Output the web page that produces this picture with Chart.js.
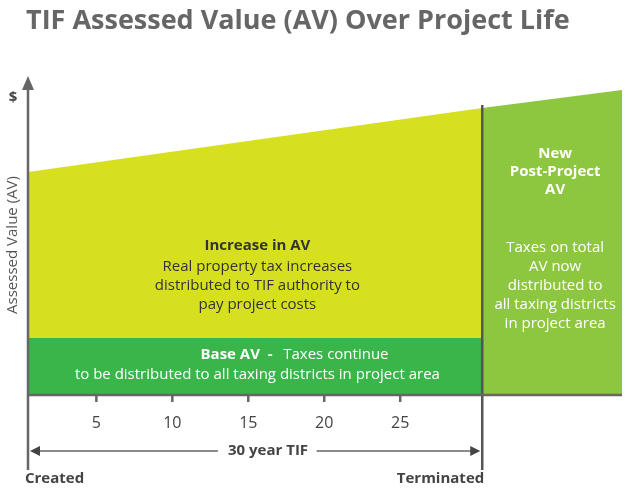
<!DOCTYPE html>
<html><head><meta charset="utf-8">
<script src="https://cdn.jsdelivr.net/npm/chart.js@4"></script>
<style>html,body{margin:0;padding:0;background:#fff}#w{width:640px;height:493px}</style>
</head><body><div id="w"><canvas id="c"></canvas></div>
<script>
const xMin = 0.5, xMax = 39.6, yMax = 315;
const termYear = 30.4;
const baseAV = [{x:0.5,y:57},{x:30.4,y:57}];
const totalAV = [{x:0.5,y:223},{x:30.4,y:287}];
const postAV = [{x:30.4,y:287},{x:39.6,y:305}];
const tickYears = [5,10,15,20,25];

const textPlugin = {
  id:'txt',
  afterDraw(ch){
    const c=ch.ctx, xs=ch.scales.x, ys=ch.scales.y;
    const X=v=>xs.getPixelForValue(v), Y=v=>ys.getPixelForValue(v);
    const L=X(xMin), R=X(xMax), B=Y(0), T=Y(yMax), TX=X(termYear);
    c.save();
    // terminated line
    c.strokeStyle='#555';c.lineWidth=2.5;
    c.beginPath();c.moveTo(TX,Y(290));c.lineTo(TX,B+75);c.stroke();
    // axes
    c.strokeStyle='#666';c.lineWidth=2.5;
    c.beginPath();c.moveTo(L,T+8);c.lineTo(L,B+75);c.moveTo(L,B);c.lineTo(R,B);c.stroke();
    c.fillStyle='#666';c.beginPath();c.moveTo(L-6,T+10);c.lineTo(L,T-4);c.lineTo(L+6,T+10);c.fill();
    // ticks
    c.font='16px "Open Sans"';c.textAlign='center';c.textBaseline='middle';c.fillStyle='#444';
    tickYears.forEach(t=>{c.beginPath();c.moveTo(X(t),B);c.lineTo(X(t),B+7);c.stroke();c.fillText(String(t),X(t),B+28);});
    // 30 yr arrow
    const ay=B+56;
    c.lineWidth=1.5;c.beginPath();c.moveTo(L+4,ay);c.lineTo(X(13),ay);c.moveTo(X(19.5),ay);c.lineTo(TX-4,ay);c.stroke();
    c.beginPath();c.moveTo(L+2,ay);c.lineTo(L+12,ay-5);c.lineTo(L+12,ay+5);c.fill();
    c.beginPath();c.moveTo(TX-2,ay);c.lineTo(TX-12,ay-5);c.lineTo(TX-12,ay+5);c.fill();
    c.font='bold 15px "Open Sans"';c.fillStyle='#444';c.fillText('30 year TIF',X(16.3),ay);
    c.textAlign='left';c.fillText('Created',L-3,B+84);
    c.textAlign='right';c.fillText('Terminated',TX+2,B+84);
    // $ and axis title
    c.textAlign='center';c.fillText('$',13,98);
    c.save();c.translate(13,245);c.rotate(-Math.PI/2);c.font='15px "Open Sans"';c.fillStyle='#555';c.fillText('Assessed Value (AV)',0,0);c.restore();
    // title
    c.textAlign='left';c.font='bold 27px "Open Sans"';c.fillStyle='#666';
    c.fillText('TIF Assessed Value (AV) Over Project Life',26,21);
    // increase text
    c.textAlign='center';c.fillStyle='#333';
    const cx=X(15.6);
    c.font='bold 15px "Open Sans"';c.fillText('Increase in AV',cx,246);
    c.font='15px "Open Sans"';
    ['Real property tax increases','distributed to TIF authority to','pay project costs'].forEach((s,i)=>c.fillText(s,cx,267+i*19));
    // base
    c.fillStyle='#fff';c.font='bold 15px "Open Sans"';
    c.textAlign='right';c.fillText('Base AV  -',X(16.6),355);
    c.textAlign='left';c.font='15px "Open Sans"';c.fillText('Taxes continue',X(17.3),355);
    c.textAlign='center';c.fillText('to be distributed to all taxing districts in project area',X(15.6),375);
    // post
    const px=X(35.2);
    c.font='bold 15px "Open Sans"';
    ['New','Post-Project','AV'].forEach((s,i)=>c.fillText(s,px,154+i*18));
    c.font='15px "Open Sans"';
    ['Taxes on total','AV now','distributed to','all taxing districts','in project area'].forEach((s,i)=>c.fillText(s,px,248+i*19));
    c.restore();
  }
};

new Chart(document.getElementById('c'),{
  type:'line',
  data:{datasets:[
    {data:baseAV,fill:'origin',backgroundColor:'#39b54a',borderWidth:0,pointRadius:0,order:1},
    {data:totalAV,fill:'-1',backgroundColor:'#d6e01f',borderWidth:0,pointRadius:0,order:2},
    {data:postAV,fill:'origin',backgroundColor:'#8dc63f',borderWidth:0,pointRadius:0,order:3}
  ]},
  options:{
    responsive:true,maintainAspectRatio:false,animation:false,
    layout:{padding:{left:28,top:80,right:18,bottom:98}},
    plugins:{legend:{display:false},tooltip:{enabled:false}},
    scales:{
      x:{type:'linear',min:xMin,max:xMax,display:false},
      y:{min:0,max:yMax,display:false}
    }
  },
  plugins:[textPlugin]
});
</script></body></html>
